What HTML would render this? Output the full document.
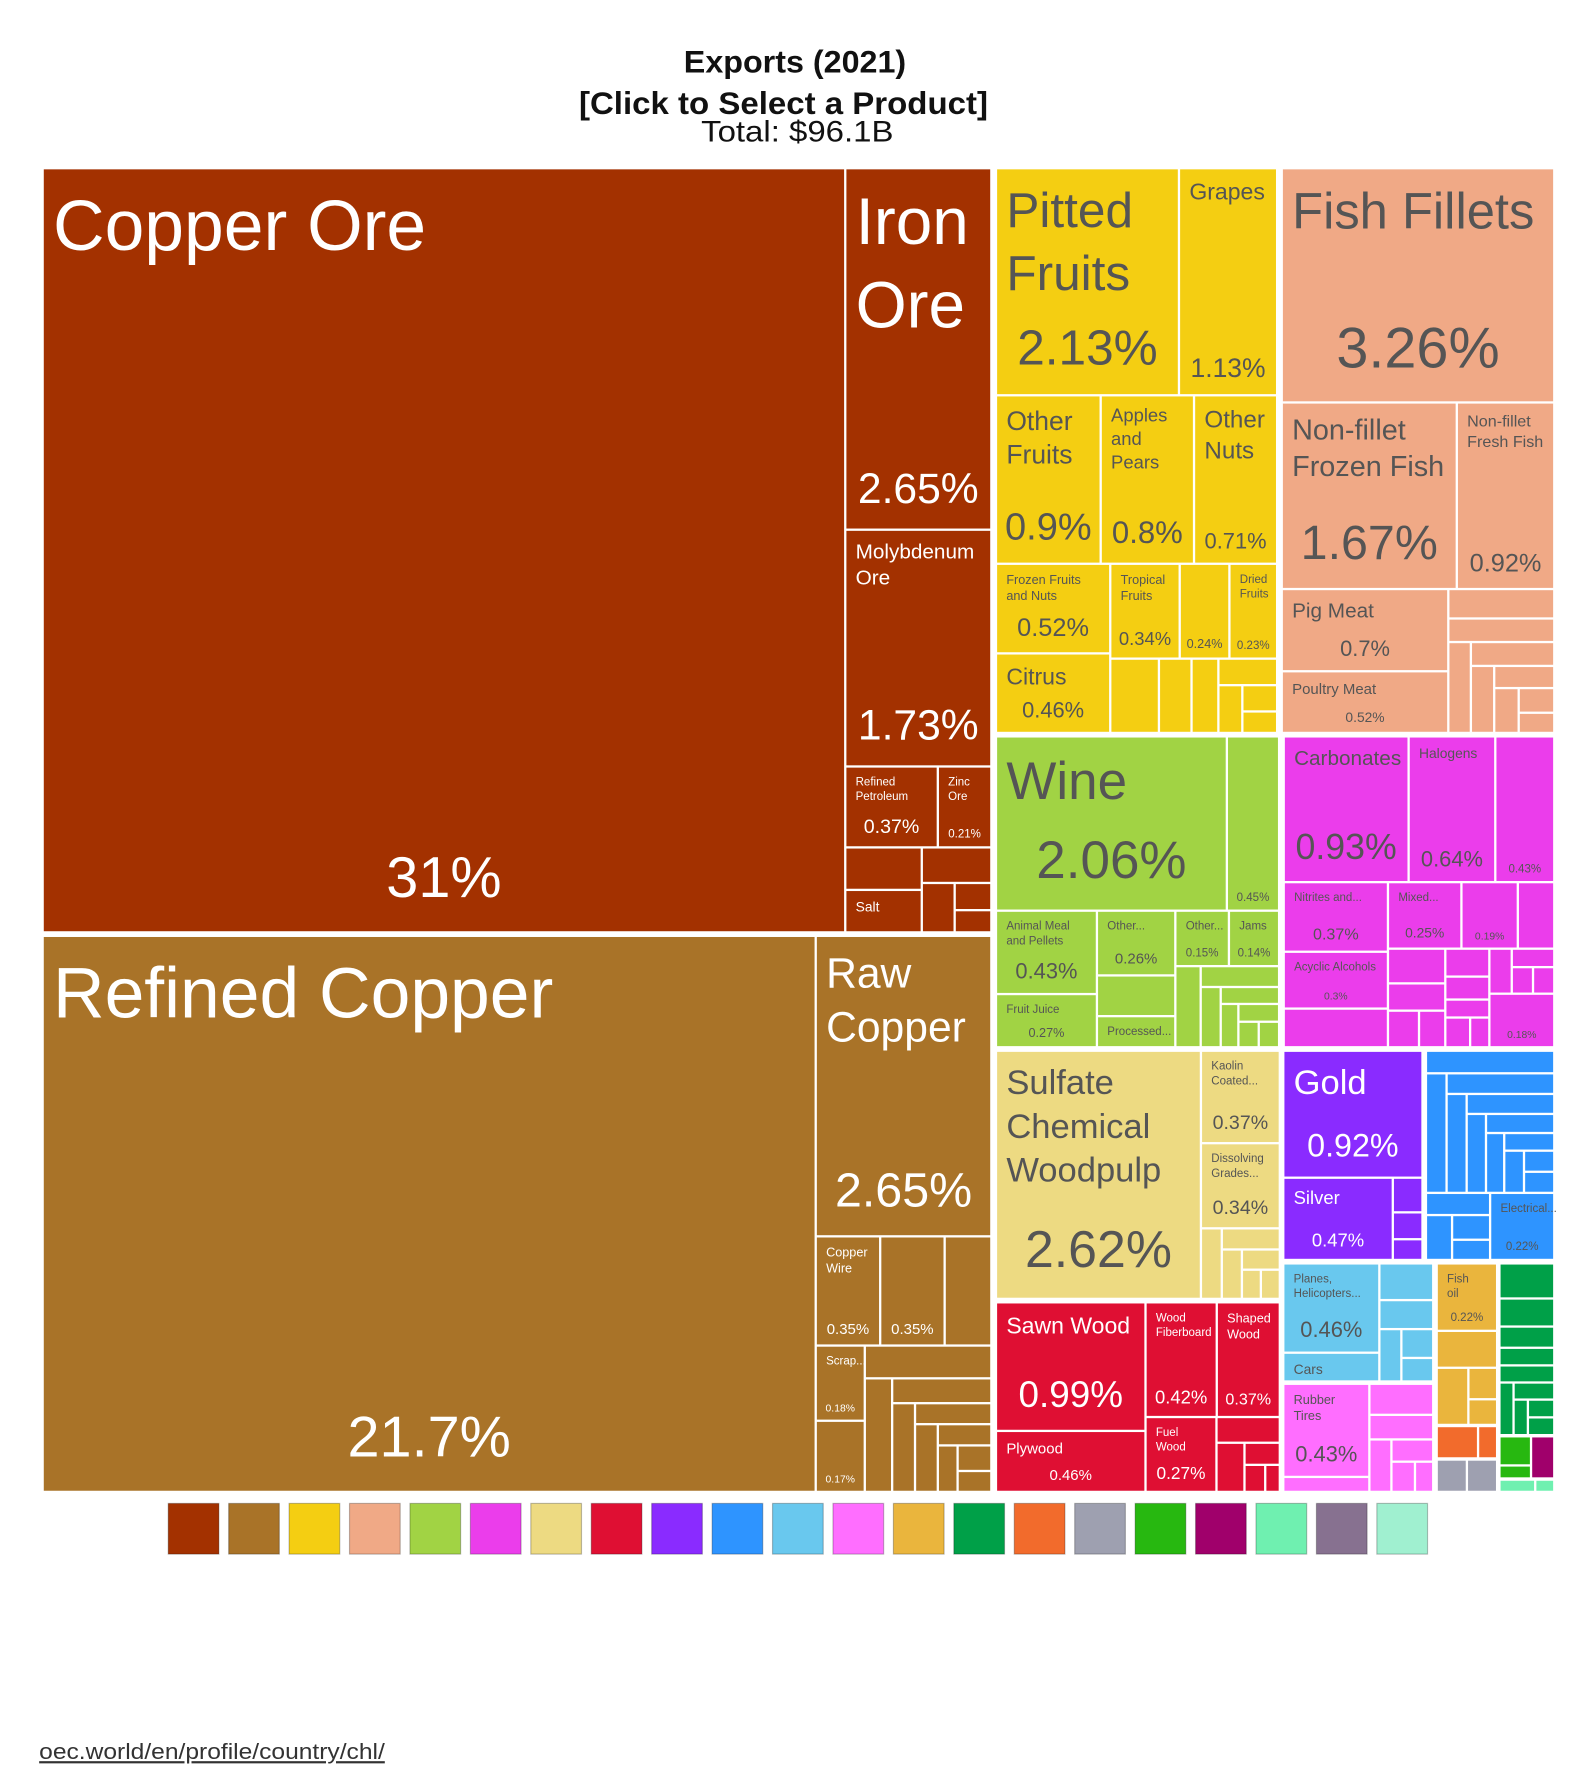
<!DOCTYPE html>
<html><head><meta charset="utf-8"><title>Chile Exports 2021</title>
<style>
html,body{margin:0;padding:0;background:#fff;}
svg{display:block;font-family:"Liberation Sans",sans-serif;}
</style></head>
<body>
<svg id="chart" width="1590" height="1792" viewBox="0 0 1380 1555.5" preserveAspectRatio="none" xmlns="http://www.w3.org/2000/svg">
<text x="690" y="63" text-anchor="middle" font-weight="bold" font-size="27" fill="#111" textLength="193" lengthAdjust="spacingAndGlyphs">Exports (2021)</text>
<text x="680" y="99" text-anchor="middle" font-weight="bold" font-size="27" fill="#111" textLength="355" lengthAdjust="spacingAndGlyphs">[Click to Select a Product]</text>
<text x="692" y="123" text-anchor="middle" font-size="26" fill="#111" textLength="167" lengthAdjust="spacingAndGlyphs">Total: $96.1B</text>
<g id="tiles"></g>
<g id="legend"></g>
<text x="34" y="1527" font-size="19" fill="#333" text-decoration="underline" textLength="300" lengthAdjust="spacingAndGlyphs">oec.world/en/profile/country/chl/</text>
</svg>
<script>
const names = ["Copper Ore","Iron\nOre","Molybdenum\nOre","Refined\nPetroleum","Zinc\nOre","Salt","Refined Copper","Raw\nCopper","Copper\nWire","","Scrap...","","Pitted\nFruits","Grapes","Other\nFruits","Apples\nand\nPears","Other\nNuts","Frozen Fruits\nand Nuts","Tropical\nFruits","","Dried\nFruits","Citrus","Fish Fillets","Non-fillet\nFrozen Fish","Non-fillet\nFresh Fish","Pig Meat","Poultry Meat","Wine","","Animal Meal\nand Pellets","Fruit Juice","Other...","Processed...","Other...","Jams","Carbonates","Halogens","","Nitrites and...","Acyclic Alcohols","Mixed...","","","Sulfate\nChemical\nWoodpulp","Kaolin\nCoated...","Dissolving\nGrades...","Sawn Wood","Plywood","Wood\nFiberboard","Shaped\nWood","Fuel\nWood","Gold","Silver","Electrical...","Planes,\nHelicopters...","Cars","Rubber\nTires","Fish\noil"];
const shares = [31,2.65,1.73,0.37,0.21,0.16,21.7,2.65,0.35,0.35,0.18,0.17,2.13,1.13,0.9,0.8,0.71,0.52,0.34,0.24,0.23,0.46,3.26,1.67,0.92,0.7,0.52,2.06,0.45,0.43,0.27,0.26,0.12,0.15,0.14,0.93,0.64,0.43,0.37,0.3,0.25,0.19,0.18,2.62,0.37,0.34,0.99,0.46,0.42,0.37,0.27,0.92,0.47,0.22,0.46,0.14,0.43,0.22];
const groups = [0,0,0,0,0,0,1,1,1,1,1,1,2,2,2,2,2,2,2,2,2,2,3,3,3,3,3,4,4,4,4,4,4,4,4,5,5,5,5,5,5,5,5,6,6,6,7,7,7,7,7,8,8,9,10,10,11,12];
const groupColors = ["#A33100","#A97328","#F4CE12","#F0A986","#A1D344","#EB3DEB","#EDDA82","#DF0F33","#8A2BFF","#2E94FF","#69C8EE","#FF6EFF","#EAB53D","#00A048","#F26B2C","#9EA0B0","#27B810","#A0006B","#6FF0B0","#877190","#A0F0D0"];
const nameSz = [62,57,18,10,10,12,62,37,11,0,10,0,43,20,23,16,21,11,11,0,10,20,44,25,14,18,13,46,0,10,10,10,10,10,10,18,12,0,10,10,10,0,0,30,10,10,20,13,10,11,10,30,16,10,10,12,11,10];
const shareSz = [50,37,37,17,10,0,50,42,13,13,9,9,43,23,33,27,19,22,16,11,10,19,50,42,22,19,12,46,10,19,11,13,0,10,10,31,19,10,14,9,12,9,9,45,17,17,32,13,16,14,15,28,16,10,19,0,19,10];
const whiteText = [0,1,7,8];

const tree = {d:'h',g:6,c:[
  {d:'v',g:5,c:[
    {d:'h',k:0,c:[0,{d:'v',c:[1,2,{d:'h',c:[3,4]},{d:'h',c:[{d:'v',c:[{f:[0.16]},5]},{f:[0.12,0.08,0.05,0.04]}]}]}]},
    {d:'h',k:1,c:[6,{d:'v',c:[7,{d:'h',c:[8,9,{f:[0.25]}]},{d:'h',c:[{d:'v',c:[10,11]},{f:[0.2,0.15,0.12,0.1,0.08,0.08,0.06,0.05,0.05,0.04]}]}]}]}
  ]},
  {d:'v',g:5,c:[
    {d:'h',g:6,c:[
      {d:'v',k:2,c:[{d:'h',c:[12,13]},{d:'h',c:[14,15,16]},{d:'h',c:[{d:'v',c:[17,21]},{d:'v',c:[{d:'h',c:[18,19,20]},{f:[0.18,0.12,0.1,0.08,0.06,0.05,0.04]}]}]}]},
      {d:'v',k:3,c:[22,{d:'h',c:[23,24]},{d:'h',c:[{d:'v',c:[25,26]},{f:[0.15,0.12,0.1,0.1,0.08,0.07,0.06,0.05,0.04]}]}]}
    ]},
    {d:'h',g:6,c:[
      {d:'v',k:4,c:[{d:'h',c:[27,28]},{d:'h',c:[{d:'v',c:[29,30]},{d:'v',c:[31,{f:[0.16]},32]},{d:'v',c:[{d:'h',c:[33,34]},{f:[0.1,0.08,0.06,0.05,0.04,0.04,0.03,0.03]}]}]}]},
      {d:'v',k:5,c:[{d:'h',c:[35,36,37]},{d:'h',c:[{d:'v',c:[38,39,{f:[0.2]}]},{d:'v',c:[{d:'h',c:[40,41,{f:[0.12]}]},{d:'h',c:[{f:[0.1,0.08,0.06,0.05]},{f:[0.06,0.05,0.04,0.04,0.03]},{d:'v',c:[{f:[0.05,0.04,0.03,0.03]},42]}]}]}]}]}
    ]},
    {d:'h',g:5,c:[
      {d:'v',g:5,c:[
        {d:'h',k:6,c:[43,{d:'v',c:[44,45,{f:[0.07,0.06,0.05,0.04,0.03,0.03]}]}]},
        {d:'h',k:7,c:[{d:'v',c:[46,47]},{d:'v',c:[{d:'h',c:[48,49]},{d:'h',c:[50,{f:[0.08,0.07,0.04,0.03,0.02]}]}]}]}
      ]},
      {d:'v',g:5,c:[
        {d:'h',g:5,c:[
          {d:'v',k:8,c:[51,{d:'h',c:[52,{f:[0.05,0.04,0.03]}]}]},
          {d:'v',k:9,c:[{f:[0.14,0.12,0.11,0.1,0.09,0.08,0.07,0.06,0.05,0.05,0.04,0.04]},{d:'h',c:[{f:[0.07,0.06,0.05,0.04]},53]}]}
        ]},
        {d:'h',g:5,c:[
          {d:'v',g:4,c:[
            {d:'h',k:10,c:[{d:'v',c:[54,55]},{f:[0.1,0.08,0.06,0.05,0.04]}]},
            {d:'h',k:11,c:[{d:'v',c:[56,{f:[0.06]}]},{f:[0.1,0.08,0.06,0.05,0.04,0.03]}]}
          ]},
          {d:'h',g:4,c:[
            {d:'v',g:3,c:[{d:'v',k:12,c:[57,{f:[0.12,0.1,0.05,0.04]}]},{f:[0.07,0.03],k:14},{f:[0.05,0.05],k:15}]},
            {d:'v',g:3,c:[{f:[0.1,0.08,0.06,0.05,0.05,0.04,0.04,0.03,0.03,0.03],k:13},{d:'h',c:[{f:[0.05,0.02],k:16},{f:[0.05],k:17}]},{f:[0.02,0.01],k:18}]}
          ]}
        ]}
      ]}
    ]}
  ]}
]};

const NS = "http://www.w3.org/2000/svg";
const tilesG = document.getElementById('tiles');
function sum(a){return a.reduce((s,v)=>s+v,0);}
function val(n){ if(typeof n==='number') return shares[n]; if(n.f) return sum(n.f); return sum(n.c.map(val)); }
function mk(tag, attrs){ const e=document.createElementNS(NS,tag); for(const k in attrs) e.setAttribute(k,attrs[k]); return e; }

function drawFiller(vals,x,y,w,h,k){
  if(w<=0||h<=0) return;
  if(vals.length===1){
    const r=mk('rect',{x:x,y:y,width:Math.max(w,0.5),height:Math.max(h,0.5),fill:groupColors[k]});
    
    
    tilesG.appendChild(r); return;
  }
  const t=sum(vals), p=vals[0]/t, g=2;
  if(w>=h){ const a=(w-g)*p; drawFiller([vals[0]],x,y,a,h,k); drawFiller(vals.slice(1),x+a+g,y,w-a-g,h,k); }
  else { const a=(h-g)*p; drawFiller([vals[0]],x,y,w,a,k); drawFiller(vals.slice(1),x,y+a+g,w,h-a-g,k); }
}

function drawLeaf(i,x,y,w,h){
  const g=mk('g',{});
  
  
  g.appendChild(mk('rect',{x:x,y:y,width:w,height:h,fill:groupColors[groups[i]]}));
  const col = whiteText.includes(groups[i]) ? '#fff' : '#555';
  const ns=nameSz[i];
  if(ns>0 && names[i]){
    names[i].split('\n').forEach((ln,j)=>{
      const t=mk('text',{x:x+8,y:y+1.05*ns+5+j*1.27*ns,'font-size':ns,fill:col});
      t.textContent=ln; g.appendChild(t);
    });
  }
  const ss=shareSz[i];
  if(ss>0){
    const t=mk('text',{x:x+w/2,y:y+h-0.55*ss-2,'font-size':ss,fill:col,'text-anchor':'middle'});
    t.textContent=shares[i]+'%'; g.appendChild(t);
  }
  tilesG.appendChild(g);
}

function lay(n,x,y,w,h,k){
  if(typeof n==='number'){ drawLeaf(n,x,y,w,h); return; }
  const kk = n.k!==undefined ? n.k : k;
  if(n.f){ drawFiller(n.f,x,y,w,h,kk); return; }
  const g = n.g!==undefined ? n.g : 2;
  const tot = val(n);
  const avail = (n.d==='h'?w:h) - g*(n.c.length-1);
  let pos = n.d==='h'?x:y;
  n.c.forEach(c=>{
    const s = avail*val(c)/tot;
    if(n.d==='h') lay(c,pos,y,s,h,kk); else lay(c,x,pos,w,s,kk);
    pos += s+g;
  });
}
lay(tree,38,147,1310,1147,0);

const legendG=document.getElementById('legend');
groupColors.forEach((c,i)=>{
  const r=mk('rect',{x:146+52.45*i,y:1305,width:44,height:44,fill:c,stroke:'rgba(0,0,0,0.25)','stroke-width':1});
  
  
  legendG.appendChild(r);
});
</script>
</body></html>
